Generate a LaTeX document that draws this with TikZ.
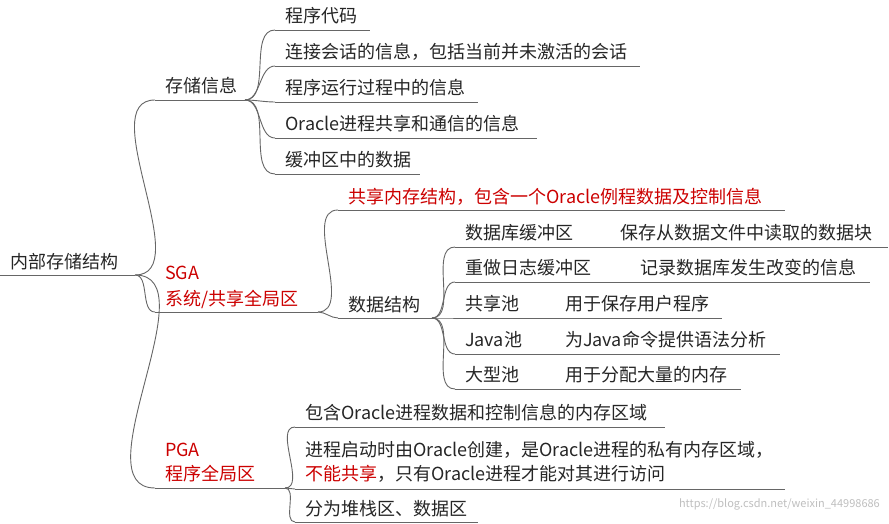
\documentclass[tikz,border=0pt]{standalone}
\usepackage{fontspec}
\setmainfont{Noto Sans CJK SC}
\begin{document}
\begin{tikzpicture}[x=1pt,y=-1pt,
  t/.style={anchor=base west,inner sep=0,font=\fontsize{18}{21}\selectfont,text=black!85},
  r/.style={t,text=red!80!black},
  ln/.style={draw=black!60,line width=0.9pt},
  br/.style={ln,out=0,in=180,looseness=0.9}]
\useasboundingbox (0,0) rectangle (889,524);
\fill[white] (0,0) rectangle (889,524);
% root
\coordinate (r0) at (0,275); \coordinate (r1) at (135,275);
\draw[ln] (r0)--(r1);
\node[t] (root) at (10,268) {内部存储结构};
% level 1
\coordinate (a0) at (155,100); \coordinate (a1) at (245,100);
\coordinate (b0) at (155,312); \coordinate (b1) at (318,312);
\coordinate (c0) at (155,488); \coordinate (c1) at (285,488);
\foreach \p in {a,b,c}{\draw[ln] (\p0)--(\p1); \draw[br] (r1) to (\p0);}
\node[t] (a) at (165,93) {存储信息};
\node[r] (b) at (165,279) {SGA};
\node[r] (b2) at (165,305) {系统/共享全局区};
\node[r] (c) at (165,456) {PGA};
\node[r] (c2) at (165,480) {程序全局区};
% 存储信息 children
\foreach \y/\e/\txt [count=\i] in {30/370/程序代码,66/640/{连接会话的信息，包括当前并未激活的会话},102/478/程序运行过程中的信息,138/537/Oracle进程共享和通信的信息,174/420/缓冲区中的数据}{
  \coordinate (as\i) at (275,\y); \coordinate (ae\i) at (\e,\y);
  \draw[ln] (as\i)--(ae\i); \draw[br] (a1) to (as\i);
  \node[t] (at\i) at (285,\y-7) {\txt};
}
% SGA children
\coordinate (bs1) at (338,210); \coordinate (be1) at (785,210);
\coordinate (bs2) at (338,318); \coordinate (be2) at (432,318);
\foreach \i in {1,2}{\draw[ln] (bs\i)--(be\i); \draw[br] (b1) to (bs\i);}
\node[r] (bt1) at (348,203) {共享内存结构，包含一个Oracle例程数据及控制信息};
\node[t] (bt2) at (348,311) {数据结构};
% 数据结构 children
\foreach \y/\e/\xx/\ta/\tb [count=\i] in {247/888/620/数据库缓冲区/保存从数据文件中读取的数据块,282/870/640/重做日志缓冲区/记录数据库发生改变的信息,318/722/565/共享池/用于保存用户程序,354/780/565/Java池/为Java命令提供语法分析,389/741/565/大型池/用于分配大量的内存}{
  \coordinate (ds\i) at (455,\y); \coordinate (de\i) at (\e,\y);
  \draw[ln] (ds\i)--(de\i); \draw[br] (be2) to (ds\i);
  \node[t] (dt\i) at (465,\y-8) {\ta};
  \node[t] (du\i) at (\xx,\y-8) {\tb};
}
% PGA children
\coordinate (cs1) at (295,427); \coordinate (ce1) at (665,427);
\coordinate (cs2) at (295,489); \coordinate (ce2) at (785,489);
\coordinate (cs3) at (295,522); \coordinate (ce3) at (478,522);
\foreach \i in {1,2,3}{\draw[ln] (cs\i)--(ce\i); \draw[br] (c1) to (cs\i);}
\node[t] (ct1) at (305,419) {包含Oracle进程数据和控制信息的内存区域};
\node[t] (ct2) at (305,456) {进程启动时由Oracle创建，是Oracle进程的私有内存区域，};
\node[t] (ct2b) at (305,480) {\textcolor{red!80!black}{不能共享}，只有Oracle进程才能对其进行访问};
\node[t] (ct3) at (305,515) {分为堆栈区、数据区};
\node[anchor=base east,inner sep=0,font=\fontsize{11}{13}\selectfont,text=black!25] (wm) at (880,507) {https://blog.csdn.net/weixin\_44998686};
\end{tikzpicture}
\end{document}
